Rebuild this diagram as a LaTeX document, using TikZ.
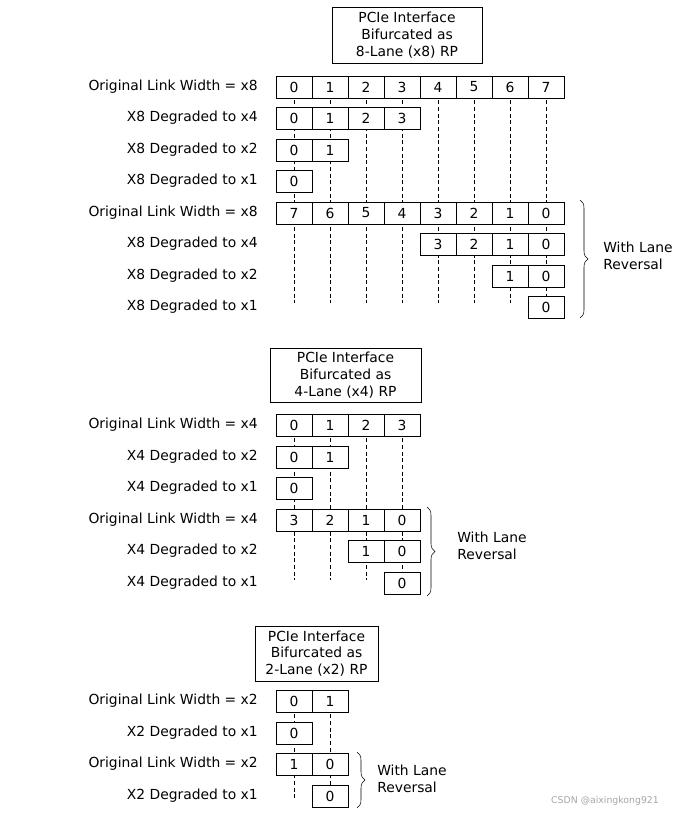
\documentclass[tikz,border=0pt]{standalone}
\usepackage{fontspec}
\setmainfont{DejaVu Sans}
\usetikzlibrary{decorations.pathreplacing}

\tikzset{
  lane/.style={draw, fill=white, minimum width=27pt, minimum height=16.5pt, inner sep=0pt},
  lbl/.style={anchor=east, inner sep=0pt},
  title/.style={draw, fill=white, align=center, inner sep=0pt},
  rev/.style={anchor=west, align=left, inner sep=0pt},
  grp/.style={decorate, decoration={brace, amplitude=6pt}},
}

% one row of lanes: prefix, y, label, pos/val list
\newcommand{\lanerow}[4]{
  \node[lbl] (#1-l) at (258,#2) {#3};
  \foreach \p/\v in {#4}
    \node[lane] (#1-\p) at (294+36*\p,#2) {\v};
}

\begin{document}
\begin{tikzpicture}[x=0.75pt, y=-0.75pt, font=\fontsize{10.4}{12.6}\selectfont]
  \useasboundingbox (0,0) rectangle (682,815);

  % dashed lane guides
  \foreach \c in {0,...,7} {
    \coordinate (ga\c) at (294+36*\c,87);
    \coordinate (gb\c) at (294+36*\c,303);
    \draw[densely dashed] (ga\c) -- (gb\c);
  }
  \foreach \c in {0,...,3} {
    \coordinate (ha\c) at (294+36*\c,425);
    \coordinate (hb\c) at (294+36*\c,580);
    \draw[densely dashed] (ha\c) -- (hb\c);
  }
  \foreach \c in {0,1} {
    \coordinate (ka\c) at (294+36*\c,701);
    \coordinate (kb\c) at (294+36*\c,800);
    \draw[densely dashed] (ka\c) -- (kb\c);
  }

  % x8
  \node[title, minimum width=112.5pt, minimum height=42pt] (t8) at (407,35)
    {PCIe Interface\\Bifurcated as\\8-Lane (x8) RP};
  \lanerow{a}{87}{Original Link Width = x8}{0/0,1/1,2/2,3/3,4/4,5/5,6/6,7/7}
  \lanerow{b}{118}{X8 Degraded to x4}{0/0,1/1,2/2,3/3}
  \lanerow{c}{150}{X8 Degraded to x2}{0/0,1/1}
  \lanerow{d}{181}{X8 Degraded to x1}{0/0}
  \lanerow{e}{213}{Original Link Width = x8}{0/7,1/6,2/5,3/4,4/3,5/2,6/1,7/0}
  \lanerow{f}{244}{X8 Degraded to x4}{4/3,5/2,6/1,7/0}
  \lanerow{g}{276}{X8 Degraded to x2}{6/1,7/0}
  \lanerow{h}{307}{X8 Degraded to x1}{7/0}
  \coordinate (b8a) at (580,200);
  \coordinate (b8b) at (580,318);
  \draw[grp] (b8a) -- (b8b);
  \node[rev] (r8) at (603,256) {With Lane\\Reversal};

  % x4
  \node[title, minimum width=113pt, minimum height=40.5pt] (t4) at (345.5,375)
    {PCIe Interface\\Bifurcated as\\4-Lane (x4) RP};
  \lanerow{m}{425}{Original Link Width = x4}{0/0,1/1,2/2,3/3}
  \lanerow{n}{457}{X4 Degraded to x2}{0/0,1/1}
  \lanerow{o}{488}{X4 Degraded to x1}{0/0}
  \lanerow{p}{520}{Original Link Width = x4}{0/3,1/2,2/1,3/0}
  \lanerow{q}{551}{X4 Degraded to x2}{2/1,3/0}
  \lanerow{s}{583}{X4 Degraded to x1}{3/0}
  \coordinate (b4a) at (427,507);
  \coordinate (b4b) at (427,596);
  \draw[grp] (b4a) -- (b4b);
  \node[rev] (r4) at (457,546) {With Lane\\Reversal};

  % x2
  \node[title, minimum width=92pt, minimum height=41pt] (t2) at (316.5,653.5)
    {PCIe Interface\\Bifurcated as\\2-Lane (x2) RP};
  \lanerow{u}{701}{Original Link Width = x2}{0/0,1/1}
  \lanerow{v}{733}{X2 Degraded to x1}{0/0}
  \lanerow{w}{764}{Original Link Width = x2}{0/1,1/0}
  \lanerow{z}{796}{X2 Degraded to x1}{1/0}
  \coordinate (b2a) at (357,752);
  \coordinate (b2b) at (357,808);
  \draw[grp] (b2a) -- (b2b);
  \node[rev] (r2) at (377,779) {With Lane\\Reversal};

  \node[text=gray!70, font=\fontsize{7}{8}\selectfont] (wm) at (605,801) {CSDN @aixingkong921};
\end{tikzpicture}
\end{document}
